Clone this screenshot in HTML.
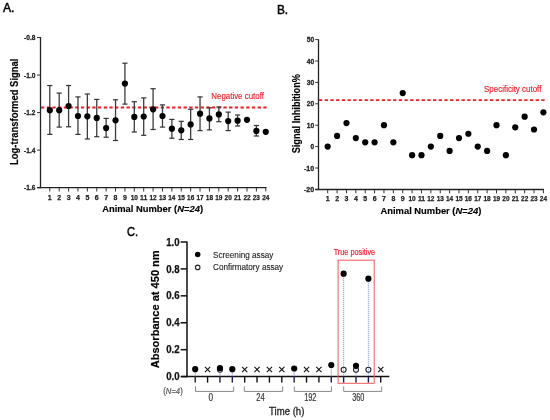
<!DOCTYPE html>
<html><head><meta charset="utf-8"><style>
html,body{margin:0;padding:0;background:#fff;width:550px;height:420px;overflow:hidden}
svg{display:block;font-family:"Liberation Sans",sans-serif;filter:blur(0.3px)}
</style></head><body>
<svg width="550" height="420" viewBox="0 0 550 420" font-family="Liberation Sans"><text x="2.9" y="11.6" font-size="12.0" font-weight="normal" font-style="normal" text-anchor="start" fill="#000" textLength="11.5" lengthAdjust="spacingAndGlyphs" stroke="#000" stroke-width="0.5" >A.</text>
<line x1="40.5" y1="37.0" x2="40.5" y2="188.3" stroke="#222" stroke-width="1.3" />
<line x1="37" y1="187.7" x2="266.5" y2="187.7" stroke="#222" stroke-width="1.3" />
<line x1="37" y1="37.5" x2="40.5" y2="37.5" stroke="#333" stroke-width="1.0" />
<text x="35.4" y="40.1" font-size="7.2" font-weight="bold" font-style="normal" text-anchor="end" fill="#222" textLength="11.3" lengthAdjust="spacingAndGlyphs" stroke="#222" stroke-width="0.3" >-0.8</text>
<line x1="37" y1="75.04999999999998" x2="40.5" y2="75.04999999999998" stroke="#333" stroke-width="1.0" />
<text x="35.4" y="77.64999999999998" font-size="7.2" font-weight="bold" font-style="normal" text-anchor="end" fill="#222" textLength="11.3" lengthAdjust="spacingAndGlyphs" stroke="#222" stroke-width="0.3" >-1.0</text>
<line x1="37" y1="112.59999999999998" x2="40.5" y2="112.59999999999998" stroke="#333" stroke-width="1.0" />
<text x="35.4" y="115.19999999999997" font-size="7.2" font-weight="bold" font-style="normal" text-anchor="end" fill="#222" textLength="11.3" lengthAdjust="spacingAndGlyphs" stroke="#222" stroke-width="0.3" >-1.2</text>
<line x1="37" y1="150.14999999999998" x2="40.5" y2="150.14999999999998" stroke="#333" stroke-width="1.0" />
<text x="35.4" y="152.74999999999997" font-size="7.2" font-weight="bold" font-style="normal" text-anchor="end" fill="#222" textLength="11.3" lengthAdjust="spacingAndGlyphs" stroke="#222" stroke-width="0.3" >-1.4</text>
<line x1="37" y1="187.7" x2="40.5" y2="187.7" stroke="#333" stroke-width="1.0" />
<text x="35.4" y="190.29999999999998" font-size="7.2" font-weight="bold" font-style="normal" text-anchor="end" fill="#222" textLength="11.3" lengthAdjust="spacingAndGlyphs" stroke="#222" stroke-width="0.3" >-1.6</text>
<line x1="49.8" y1="187.7" x2="49.8" y2="191.5" stroke="#333" stroke-width="1.0" />
<text x="49.8" y="199.6" font-size="7.0" font-weight="bold" font-style="normal" text-anchor="middle" fill="#222" textLength="3.9" lengthAdjust="spacingAndGlyphs" stroke="#222" stroke-width="0.25" >1</text>
<line x1="59.19" y1="187.7" x2="59.19" y2="191.5" stroke="#333" stroke-width="1.0" />
<text x="59.19" y="199.6" font-size="7.0" font-weight="bold" font-style="normal" text-anchor="middle" fill="#222" textLength="3.9" lengthAdjust="spacingAndGlyphs" stroke="#222" stroke-width="0.25" >2</text>
<line x1="68.58" y1="187.7" x2="68.58" y2="191.5" stroke="#333" stroke-width="1.0" />
<text x="68.58" y="199.6" font-size="7.0" font-weight="bold" font-style="normal" text-anchor="middle" fill="#222" textLength="3.9" lengthAdjust="spacingAndGlyphs" stroke="#222" stroke-width="0.25" >3</text>
<line x1="77.97" y1="187.7" x2="77.97" y2="191.5" stroke="#333" stroke-width="1.0" />
<text x="77.97" y="199.6" font-size="7.0" font-weight="bold" font-style="normal" text-anchor="middle" fill="#222" textLength="3.9" lengthAdjust="spacingAndGlyphs" stroke="#222" stroke-width="0.25" >4</text>
<line x1="87.36" y1="187.7" x2="87.36" y2="191.5" stroke="#333" stroke-width="1.0" />
<text x="87.36" y="199.6" font-size="7.0" font-weight="bold" font-style="normal" text-anchor="middle" fill="#222" textLength="3.9" lengthAdjust="spacingAndGlyphs" stroke="#222" stroke-width="0.25" >5</text>
<line x1="96.75" y1="187.7" x2="96.75" y2="191.5" stroke="#333" stroke-width="1.0" />
<text x="96.75" y="199.6" font-size="7.0" font-weight="bold" font-style="normal" text-anchor="middle" fill="#222" textLength="3.9" lengthAdjust="spacingAndGlyphs" stroke="#222" stroke-width="0.25" >6</text>
<line x1="106.14" y1="187.7" x2="106.14" y2="191.5" stroke="#333" stroke-width="1.0" />
<text x="106.14" y="199.6" font-size="7.0" font-weight="bold" font-style="normal" text-anchor="middle" fill="#222" textLength="3.9" lengthAdjust="spacingAndGlyphs" stroke="#222" stroke-width="0.25" >7</text>
<line x1="115.53" y1="187.7" x2="115.53" y2="191.5" stroke="#333" stroke-width="1.0" />
<text x="115.53" y="199.6" font-size="7.0" font-weight="bold" font-style="normal" text-anchor="middle" fill="#222" textLength="3.9" lengthAdjust="spacingAndGlyphs" stroke="#222" stroke-width="0.25" >8</text>
<line x1="124.92" y1="187.7" x2="124.92" y2="191.5" stroke="#333" stroke-width="1.0" />
<text x="124.92" y="199.6" font-size="7.0" font-weight="bold" font-style="normal" text-anchor="middle" fill="#222" textLength="3.9" lengthAdjust="spacingAndGlyphs" stroke="#222" stroke-width="0.25" >9</text>
<line x1="134.31" y1="187.7" x2="134.31" y2="191.5" stroke="#333" stroke-width="1.0" />
<text x="134.31" y="199.6" font-size="7.0" font-weight="bold" font-style="normal" text-anchor="middle" fill="#222" textLength="7.2" lengthAdjust="spacingAndGlyphs" stroke="#222" stroke-width="0.25" >10</text>
<line x1="143.7" y1="187.7" x2="143.7" y2="191.5" stroke="#333" stroke-width="1.0" />
<text x="143.7" y="199.6" font-size="7.0" font-weight="bold" font-style="normal" text-anchor="middle" fill="#222" textLength="7.2" lengthAdjust="spacingAndGlyphs" stroke="#222" stroke-width="0.25" >11</text>
<line x1="153.09" y1="187.7" x2="153.09" y2="191.5" stroke="#333" stroke-width="1.0" />
<text x="153.09" y="199.6" font-size="7.0" font-weight="bold" font-style="normal" text-anchor="middle" fill="#222" textLength="7.2" lengthAdjust="spacingAndGlyphs" stroke="#222" stroke-width="0.25" >12</text>
<line x1="162.48000000000002" y1="187.7" x2="162.48000000000002" y2="191.5" stroke="#333" stroke-width="1.0" />
<text x="162.48000000000002" y="199.6" font-size="7.0" font-weight="bold" font-style="normal" text-anchor="middle" fill="#222" textLength="7.2" lengthAdjust="spacingAndGlyphs" stroke="#222" stroke-width="0.25" >13</text>
<line x1="171.87" y1="187.7" x2="171.87" y2="191.5" stroke="#333" stroke-width="1.0" />
<text x="171.87" y="199.6" font-size="7.0" font-weight="bold" font-style="normal" text-anchor="middle" fill="#222" textLength="7.2" lengthAdjust="spacingAndGlyphs" stroke="#222" stroke-width="0.25" >14</text>
<line x1="181.26" y1="187.7" x2="181.26" y2="191.5" stroke="#333" stroke-width="1.0" />
<text x="181.26" y="199.6" font-size="7.0" font-weight="bold" font-style="normal" text-anchor="middle" fill="#222" textLength="7.2" lengthAdjust="spacingAndGlyphs" stroke="#222" stroke-width="0.25" >15</text>
<line x1="190.65000000000003" y1="187.7" x2="190.65000000000003" y2="191.5" stroke="#333" stroke-width="1.0" />
<text x="190.65000000000003" y="199.6" font-size="7.0" font-weight="bold" font-style="normal" text-anchor="middle" fill="#222" textLength="7.2" lengthAdjust="spacingAndGlyphs" stroke="#222" stroke-width="0.25" >16</text>
<line x1="200.04000000000002" y1="187.7" x2="200.04000000000002" y2="191.5" stroke="#333" stroke-width="1.0" />
<text x="200.04000000000002" y="199.6" font-size="7.0" font-weight="bold" font-style="normal" text-anchor="middle" fill="#222" textLength="7.2" lengthAdjust="spacingAndGlyphs" stroke="#222" stroke-width="0.25" >17</text>
<line x1="209.43" y1="187.7" x2="209.43" y2="191.5" stroke="#333" stroke-width="1.0" />
<text x="209.43" y="199.6" font-size="7.0" font-weight="bold" font-style="normal" text-anchor="middle" fill="#222" textLength="7.2" lengthAdjust="spacingAndGlyphs" stroke="#222" stroke-width="0.25" >18</text>
<line x1="218.82" y1="187.7" x2="218.82" y2="191.5" stroke="#333" stroke-width="1.0" />
<text x="218.82" y="199.6" font-size="7.0" font-weight="bold" font-style="normal" text-anchor="middle" fill="#222" textLength="7.2" lengthAdjust="spacingAndGlyphs" stroke="#222" stroke-width="0.25" >19</text>
<line x1="228.21000000000004" y1="187.7" x2="228.21000000000004" y2="191.5" stroke="#333" stroke-width="1.0" />
<text x="228.21000000000004" y="199.6" font-size="7.0" font-weight="bold" font-style="normal" text-anchor="middle" fill="#222" textLength="7.2" lengthAdjust="spacingAndGlyphs" stroke="#222" stroke-width="0.25" >20</text>
<line x1="237.60000000000002" y1="187.7" x2="237.60000000000002" y2="191.5" stroke="#333" stroke-width="1.0" />
<text x="237.60000000000002" y="199.6" font-size="7.0" font-weight="bold" font-style="normal" text-anchor="middle" fill="#222" textLength="7.2" lengthAdjust="spacingAndGlyphs" stroke="#222" stroke-width="0.25" >21</text>
<line x1="246.99" y1="187.7" x2="246.99" y2="191.5" stroke="#333" stroke-width="1.0" />
<text x="246.99" y="199.6" font-size="7.0" font-weight="bold" font-style="normal" text-anchor="middle" fill="#222" textLength="7.2" lengthAdjust="spacingAndGlyphs" stroke="#222" stroke-width="0.25" >22</text>
<line x1="256.38" y1="187.7" x2="256.38" y2="191.5" stroke="#333" stroke-width="1.0" />
<text x="256.38" y="199.6" font-size="7.0" font-weight="bold" font-style="normal" text-anchor="middle" fill="#222" textLength="7.2" lengthAdjust="spacingAndGlyphs" stroke="#222" stroke-width="0.25" >23</text>
<line x1="265.77000000000004" y1="187.7" x2="265.77000000000004" y2="191.5" stroke="#333" stroke-width="1.0" />
<text x="265.77000000000004" y="199.6" font-size="7.0" font-weight="bold" font-style="normal" text-anchor="middle" fill="#222" textLength="7.2" lengthAdjust="spacingAndGlyphs" stroke="#222" stroke-width="0.25" >24</text>
<text x="102.2" y="211.8" font-size="9.8" font-weight="bold" font-style="normal" text-anchor="start" fill="#000" textLength="100.8" lengthAdjust="spacingAndGlyphs" stroke="#000" stroke-width="0.15" >Animal Number (<tspan font-style="italic">N</tspan>=<tspan font-style="italic">24</tspan>)</text>
<text transform="translate(18.3,164.9) rotate(-90)" font-size="10.2" font-weight="bold" stroke="#000" stroke-width="0.15" textLength="106.3" lengthAdjust="spacingAndGlyphs">Log-transformed Signal</text>
<line x1="41" y1="107.5" x2="268" y2="107.5" stroke="#ee1c25" stroke-width="1.8" stroke-dasharray="3.3 2.4"/>
<text x="211.3" y="98.8" font-size="8.9" font-weight="normal" font-style="normal" text-anchor="start" fill="#ee1c25" textLength="52.6" lengthAdjust="spacingAndGlyphs" stroke="#ee1c25" stroke-width="0.15" >Negative cutoff</text>
<line x1="49.8" y1="85.5" x2="49.8" y2="134.4" stroke="#3c3c3c" stroke-width="1.3" />
<line x1="47.199999999999996" y1="85.5" x2="52.4" y2="85.5" stroke="#333" stroke-width="1.2" />
<line x1="47.199999999999996" y1="134.4" x2="52.4" y2="134.4" stroke="#333" stroke-width="1.2" />
<line x1="59.19" y1="93.1" x2="59.19" y2="127.1" stroke="#3c3c3c" stroke-width="1.3" />
<line x1="56.589999999999996" y1="93.1" x2="61.79" y2="93.1" stroke="#333" stroke-width="1.2" />
<line x1="56.589999999999996" y1="127.1" x2="61.79" y2="127.1" stroke="#333" stroke-width="1.2" />
<line x1="68.58" y1="85.5" x2="68.58" y2="126.8" stroke="#3c3c3c" stroke-width="1.3" />
<line x1="65.98" y1="85.5" x2="71.17999999999999" y2="85.5" stroke="#333" stroke-width="1.2" />
<line x1="65.98" y1="126.8" x2="71.17999999999999" y2="126.8" stroke="#333" stroke-width="1.2" />
<line x1="77.97" y1="96.9" x2="77.97" y2="134.4" stroke="#3c3c3c" stroke-width="1.3" />
<line x1="75.37" y1="96.9" x2="80.57" y2="96.9" stroke="#333" stroke-width="1.2" />
<line x1="75.37" y1="134.4" x2="80.57" y2="134.4" stroke="#333" stroke-width="1.2" />
<line x1="87.36" y1="94" x2="87.36" y2="139" stroke="#3c3c3c" stroke-width="1.3" />
<line x1="84.76" y1="94" x2="89.96" y2="94" stroke="#333" stroke-width="1.2" />
<line x1="84.76" y1="139" x2="89.96" y2="139" stroke="#333" stroke-width="1.2" />
<line x1="96.75" y1="99.4" x2="96.75" y2="136.7" stroke="#3c3c3c" stroke-width="1.3" />
<line x1="94.15" y1="99.4" x2="99.35" y2="99.4" stroke="#333" stroke-width="1.2" />
<line x1="94.15" y1="136.7" x2="99.35" y2="136.7" stroke="#333" stroke-width="1.2" />
<line x1="106.14" y1="118.4" x2="106.14" y2="137.2" stroke="#3c3c3c" stroke-width="1.3" />
<line x1="103.54" y1="118.4" x2="108.74" y2="118.4" stroke="#333" stroke-width="1.2" />
<line x1="103.54" y1="137.2" x2="108.74" y2="137.2" stroke="#333" stroke-width="1.2" />
<line x1="115.53" y1="99.8" x2="115.53" y2="140.5" stroke="#3c3c3c" stroke-width="1.3" />
<line x1="112.93" y1="99.8" x2="118.13" y2="99.8" stroke="#333" stroke-width="1.2" />
<line x1="112.93" y1="140.5" x2="118.13" y2="140.5" stroke="#333" stroke-width="1.2" />
<line x1="124.92" y1="63.2" x2="124.92" y2="104.1" stroke="#3c3c3c" stroke-width="1.3" />
<line x1="122.32000000000001" y1="63.2" x2="127.52" y2="63.2" stroke="#333" stroke-width="1.2" />
<line x1="122.32000000000001" y1="104.1" x2="127.52" y2="104.1" stroke="#333" stroke-width="1.2" />
<line x1="134.31" y1="101.7" x2="134.31" y2="132" stroke="#3c3c3c" stroke-width="1.3" />
<line x1="131.71" y1="101.7" x2="136.91" y2="101.7" stroke="#333" stroke-width="1.2" />
<line x1="131.71" y1="132" x2="136.91" y2="132" stroke="#333" stroke-width="1.2" />
<line x1="143.7" y1="97.9" x2="143.7" y2="135.3" stroke="#3c3c3c" stroke-width="1.3" />
<line x1="141.1" y1="97.9" x2="146.29999999999998" y2="97.9" stroke="#333" stroke-width="1.2" />
<line x1="141.1" y1="135.3" x2="146.29999999999998" y2="135.3" stroke="#333" stroke-width="1.2" />
<line x1="153.09" y1="88.7" x2="153.09" y2="129.5" stroke="#3c3c3c" stroke-width="1.3" />
<line x1="150.49" y1="88.7" x2="155.69" y2="88.7" stroke="#333" stroke-width="1.2" />
<line x1="150.49" y1="129.5" x2="155.69" y2="129.5" stroke="#333" stroke-width="1.2" />
<line x1="162.48000000000002" y1="104.9" x2="162.48000000000002" y2="127.1" stroke="#3c3c3c" stroke-width="1.3" />
<line x1="159.88000000000002" y1="104.9" x2="165.08" y2="104.9" stroke="#333" stroke-width="1.2" />
<line x1="159.88000000000002" y1="127.1" x2="165.08" y2="127.1" stroke="#333" stroke-width="1.2" />
<line x1="171.87" y1="119.4" x2="171.87" y2="138.2" stroke="#3c3c3c" stroke-width="1.3" />
<line x1="169.27" y1="119.4" x2="174.47" y2="119.4" stroke="#333" stroke-width="1.2" />
<line x1="169.27" y1="138.2" x2="174.47" y2="138.2" stroke="#333" stroke-width="1.2" />
<line x1="181.26" y1="121.3" x2="181.26" y2="139.5" stroke="#3c3c3c" stroke-width="1.3" />
<line x1="178.66" y1="121.3" x2="183.85999999999999" y2="121.3" stroke="#333" stroke-width="1.2" />
<line x1="178.66" y1="139.5" x2="183.85999999999999" y2="139.5" stroke="#333" stroke-width="1.2" />
<line x1="190.65000000000003" y1="109.3" x2="190.65000000000003" y2="139.5" stroke="#3c3c3c" stroke-width="1.3" />
<line x1="188.05000000000004" y1="109.3" x2="193.25000000000003" y2="109.3" stroke="#333" stroke-width="1.2" />
<line x1="188.05000000000004" y1="139.5" x2="193.25000000000003" y2="139.5" stroke="#333" stroke-width="1.2" />
<line x1="200.04000000000002" y1="96.9" x2="200.04000000000002" y2="130.6" stroke="#3c3c3c" stroke-width="1.3" />
<line x1="197.44000000000003" y1="96.9" x2="202.64000000000001" y2="96.9" stroke="#333" stroke-width="1.2" />
<line x1="197.44000000000003" y1="130.6" x2="202.64000000000001" y2="130.6" stroke="#333" stroke-width="1.2" />
<line x1="209.43" y1="107.8" x2="209.43" y2="129.9" stroke="#3c3c3c" stroke-width="1.3" />
<line x1="206.83" y1="107.8" x2="212.03" y2="107.8" stroke="#333" stroke-width="1.2" />
<line x1="206.83" y1="129.9" x2="212.03" y2="129.9" stroke="#333" stroke-width="1.2" />
<line x1="218.82" y1="107" x2="218.82" y2="121.7" stroke="#3c3c3c" stroke-width="1.3" />
<line x1="216.22" y1="107" x2="221.42" y2="107" stroke="#333" stroke-width="1.2" />
<line x1="216.22" y1="121.7" x2="221.42" y2="121.7" stroke="#333" stroke-width="1.2" />
<line x1="228.21000000000004" y1="112.1" x2="228.21000000000004" y2="130.6" stroke="#3c3c3c" stroke-width="1.3" />
<line x1="225.61000000000004" y1="112.1" x2="230.81000000000003" y2="112.1" stroke="#333" stroke-width="1.2" />
<line x1="225.61000000000004" y1="130.6" x2="230.81000000000003" y2="130.6" stroke="#333" stroke-width="1.2" />
<line x1="237.60000000000002" y1="115" x2="237.60000000000002" y2="126" stroke="#3c3c3c" stroke-width="1.3" />
<line x1="235.00000000000003" y1="115" x2="240.20000000000002" y2="115" stroke="#333" stroke-width="1.2" />
<line x1="235.00000000000003" y1="126" x2="240.20000000000002" y2="126" stroke="#333" stroke-width="1.2" />
<line x1="256.38" y1="125.5" x2="256.38" y2="136" stroke="#3c3c3c" stroke-width="1.3" />
<line x1="253.78" y1="125.5" x2="258.98" y2="125.5" stroke="#333" stroke-width="1.2" />
<line x1="253.78" y1="136" x2="258.98" y2="136" stroke="#333" stroke-width="1.2" />
<circle cx="49.8" cy="110.2" r="3.1" fill="#000" stroke="none" stroke-width="0"/>
<circle cx="59.19" cy="110.2" r="3.1" fill="#000" stroke="none" stroke-width="0"/>
<circle cx="68.58" cy="106" r="3.1" fill="#000" stroke="none" stroke-width="0"/>
<circle cx="77.97" cy="116" r="3.1" fill="#000" stroke="none" stroke-width="0"/>
<circle cx="87.36" cy="116.3" r="3.1" fill="#000" stroke="none" stroke-width="0"/>
<circle cx="96.75" cy="117.9" r="3.1" fill="#000" stroke="none" stroke-width="0"/>
<circle cx="106.14" cy="128.1" r="3.1" fill="#000" stroke="none" stroke-width="0"/>
<circle cx="115.53" cy="120.3" r="3.1" fill="#000" stroke="none" stroke-width="0"/>
<circle cx="124.92" cy="83.6" r="3.1" fill="#000" stroke="none" stroke-width="0"/>
<circle cx="134.31" cy="116.9" r="3.1" fill="#000" stroke="none" stroke-width="0"/>
<circle cx="143.7" cy="116.5" r="3.1" fill="#000" stroke="none" stroke-width="0"/>
<circle cx="153.09" cy="109.3" r="3.1" fill="#000" stroke="none" stroke-width="0"/>
<circle cx="162.48000000000002" cy="116" r="3.1" fill="#000" stroke="none" stroke-width="0"/>
<circle cx="171.87" cy="128.7" r="3.1" fill="#000" stroke="none" stroke-width="0"/>
<circle cx="181.26" cy="130.3" r="3.1" fill="#000" stroke="none" stroke-width="0"/>
<circle cx="190.65000000000003" cy="124.4" r="3.1" fill="#000" stroke="none" stroke-width="0"/>
<circle cx="200.04000000000002" cy="113.7" r="3.1" fill="#000" stroke="none" stroke-width="0"/>
<circle cx="209.43" cy="118.4" r="3.1" fill="#000" stroke="none" stroke-width="0"/>
<circle cx="218.82" cy="114.4" r="3.1" fill="#000" stroke="none" stroke-width="0"/>
<circle cx="228.21000000000004" cy="121.1" r="3.1" fill="#000" stroke="none" stroke-width="0"/>
<circle cx="237.60000000000002" cy="120.7" r="3.1" fill="#000" stroke="none" stroke-width="0"/>
<circle cx="246.99" cy="119.8" r="3.1" fill="#000" stroke="none" stroke-width="0"/>
<circle cx="256.38" cy="130.9" r="3.1" fill="#000" stroke="none" stroke-width="0"/>
<circle cx="265.77000000000004" cy="131.8" r="3.1" fill="#000" stroke="none" stroke-width="0"/>
<text x="276.9" y="13.6" font-size="12.4" font-weight="normal" font-style="normal" text-anchor="start" fill="#000" textLength="11.2" lengthAdjust="spacingAndGlyphs" stroke="#000" stroke-width="0.5" >B.</text>
<line x1="318.5" y1="39.3" x2="318.5" y2="190.1" stroke="#222" stroke-width="1.3" />
<line x1="315" y1="189.5" x2="543.9" y2="189.5" stroke="#222" stroke-width="1.3" />
<line x1="315.2" y1="39.599999999999994" x2="318.5" y2="39.599999999999994" stroke="#333" stroke-width="1.0" />
<text x="314.2" y="42.199999999999996" font-size="7.2" font-weight="bold" font-style="normal" text-anchor="end" fill="#222" textLength="7.4" lengthAdjust="spacingAndGlyphs" stroke="#222" stroke-width="0.3" >50</text>
<line x1="315.2" y1="60.999999999999986" x2="318.5" y2="60.999999999999986" stroke="#333" stroke-width="1.0" />
<text x="314.2" y="63.59999999999999" font-size="7.2" font-weight="bold" font-style="normal" text-anchor="end" fill="#222" textLength="7.4" lengthAdjust="spacingAndGlyphs" stroke="#222" stroke-width="0.3" >40</text>
<line x1="315.2" y1="82.39999999999999" x2="318.5" y2="82.39999999999999" stroke="#333" stroke-width="1.0" />
<text x="314.2" y="84.99999999999999" font-size="7.2" font-weight="bold" font-style="normal" text-anchor="end" fill="#222" textLength="7.4" lengthAdjust="spacingAndGlyphs" stroke="#222" stroke-width="0.3" >30</text>
<line x1="315.2" y1="103.79999999999998" x2="318.5" y2="103.79999999999998" stroke="#333" stroke-width="1.0" />
<text x="314.2" y="106.39999999999998" font-size="7.2" font-weight="bold" font-style="normal" text-anchor="end" fill="#222" textLength="7.4" lengthAdjust="spacingAndGlyphs" stroke="#222" stroke-width="0.3" >20</text>
<line x1="315.2" y1="125.19999999999999" x2="318.5" y2="125.19999999999999" stroke="#333" stroke-width="1.0" />
<text x="314.2" y="127.79999999999998" font-size="7.2" font-weight="bold" font-style="normal" text-anchor="end" fill="#222" textLength="7.4" lengthAdjust="spacingAndGlyphs" stroke="#222" stroke-width="0.3" >10</text>
<line x1="315.2" y1="146.6" x2="318.5" y2="146.6" stroke="#333" stroke-width="1.0" />
<text x="314.2" y="149.2" font-size="7.2" font-weight="bold" font-style="normal" text-anchor="end" fill="#222" textLength="3.6" lengthAdjust="spacingAndGlyphs" stroke="#222" stroke-width="0.3" >0</text>
<line x1="315.2" y1="168.0" x2="318.5" y2="168.0" stroke="#333" stroke-width="1.0" />
<text x="314.2" y="170.6" font-size="7.2" font-weight="bold" font-style="normal" text-anchor="end" fill="#222" textLength="10.2" lengthAdjust="spacingAndGlyphs" stroke="#222" stroke-width="0.3" >-10</text>
<line x1="315.2" y1="189.4" x2="318.5" y2="189.4" stroke="#333" stroke-width="1.0" />
<text x="314.2" y="192.0" font-size="7.2" font-weight="bold" font-style="normal" text-anchor="end" fill="#222" textLength="10.2" lengthAdjust="spacingAndGlyphs" stroke="#222" stroke-width="0.3" >-20</text>
<line x1="327.7" y1="189.5" x2="327.7" y2="193.3" stroke="#333" stroke-width="1.0" />
<text x="327.7" y="201.2" font-size="7.0" font-weight="bold" font-style="normal" text-anchor="middle" fill="#222" textLength="3.9" lengthAdjust="spacingAndGlyphs" stroke="#222" stroke-width="0.25" >1</text>
<line x1="337.078" y1="189.5" x2="337.078" y2="193.3" stroke="#333" stroke-width="1.0" />
<text x="337.078" y="201.2" font-size="7.0" font-weight="bold" font-style="normal" text-anchor="middle" fill="#222" textLength="3.9" lengthAdjust="spacingAndGlyphs" stroke="#222" stroke-width="0.25" >2</text>
<line x1="346.456" y1="189.5" x2="346.456" y2="193.3" stroke="#333" stroke-width="1.0" />
<text x="346.456" y="201.2" font-size="7.0" font-weight="bold" font-style="normal" text-anchor="middle" fill="#222" textLength="3.9" lengthAdjust="spacingAndGlyphs" stroke="#222" stroke-width="0.25" >3</text>
<line x1="355.834" y1="189.5" x2="355.834" y2="193.3" stroke="#333" stroke-width="1.0" />
<text x="355.834" y="201.2" font-size="7.0" font-weight="bold" font-style="normal" text-anchor="middle" fill="#222" textLength="3.9" lengthAdjust="spacingAndGlyphs" stroke="#222" stroke-width="0.25" >4</text>
<line x1="365.212" y1="189.5" x2="365.212" y2="193.3" stroke="#333" stroke-width="1.0" />
<text x="365.212" y="201.2" font-size="7.0" font-weight="bold" font-style="normal" text-anchor="middle" fill="#222" textLength="3.9" lengthAdjust="spacingAndGlyphs" stroke="#222" stroke-width="0.25" >5</text>
<line x1="374.59" y1="189.5" x2="374.59" y2="193.3" stroke="#333" stroke-width="1.0" />
<text x="374.59" y="201.2" font-size="7.0" font-weight="bold" font-style="normal" text-anchor="middle" fill="#222" textLength="3.9" lengthAdjust="spacingAndGlyphs" stroke="#222" stroke-width="0.25" >6</text>
<line x1="383.96799999999996" y1="189.5" x2="383.96799999999996" y2="193.3" stroke="#333" stroke-width="1.0" />
<text x="383.96799999999996" y="201.2" font-size="7.0" font-weight="bold" font-style="normal" text-anchor="middle" fill="#222" textLength="3.9" lengthAdjust="spacingAndGlyphs" stroke="#222" stroke-width="0.25" >7</text>
<line x1="393.346" y1="189.5" x2="393.346" y2="193.3" stroke="#333" stroke-width="1.0" />
<text x="393.346" y="201.2" font-size="7.0" font-weight="bold" font-style="normal" text-anchor="middle" fill="#222" textLength="3.9" lengthAdjust="spacingAndGlyphs" stroke="#222" stroke-width="0.25" >8</text>
<line x1="402.724" y1="189.5" x2="402.724" y2="193.3" stroke="#333" stroke-width="1.0" />
<text x="402.724" y="201.2" font-size="7.0" font-weight="bold" font-style="normal" text-anchor="middle" fill="#222" textLength="3.9" lengthAdjust="spacingAndGlyphs" stroke="#222" stroke-width="0.25" >9</text>
<line x1="412.102" y1="189.5" x2="412.102" y2="193.3" stroke="#333" stroke-width="1.0" />
<text x="412.102" y="201.2" font-size="7.0" font-weight="bold" font-style="normal" text-anchor="middle" fill="#222" textLength="7.2" lengthAdjust="spacingAndGlyphs" stroke="#222" stroke-width="0.25" >10</text>
<line x1="421.48" y1="189.5" x2="421.48" y2="193.3" stroke="#333" stroke-width="1.0" />
<text x="421.48" y="201.2" font-size="7.0" font-weight="bold" font-style="normal" text-anchor="middle" fill="#222" textLength="7.2" lengthAdjust="spacingAndGlyphs" stroke="#222" stroke-width="0.25" >11</text>
<line x1="430.858" y1="189.5" x2="430.858" y2="193.3" stroke="#333" stroke-width="1.0" />
<text x="430.858" y="201.2" font-size="7.0" font-weight="bold" font-style="normal" text-anchor="middle" fill="#222" textLength="7.2" lengthAdjust="spacingAndGlyphs" stroke="#222" stroke-width="0.25" >12</text>
<line x1="440.236" y1="189.5" x2="440.236" y2="193.3" stroke="#333" stroke-width="1.0" />
<text x="440.236" y="201.2" font-size="7.0" font-weight="bold" font-style="normal" text-anchor="middle" fill="#222" textLength="7.2" lengthAdjust="spacingAndGlyphs" stroke="#222" stroke-width="0.25" >13</text>
<line x1="449.614" y1="189.5" x2="449.614" y2="193.3" stroke="#333" stroke-width="1.0" />
<text x="449.614" y="201.2" font-size="7.0" font-weight="bold" font-style="normal" text-anchor="middle" fill="#222" textLength="7.2" lengthAdjust="spacingAndGlyphs" stroke="#222" stroke-width="0.25" >14</text>
<line x1="458.99199999999996" y1="189.5" x2="458.99199999999996" y2="193.3" stroke="#333" stroke-width="1.0" />
<text x="458.99199999999996" y="201.2" font-size="7.0" font-weight="bold" font-style="normal" text-anchor="middle" fill="#222" textLength="7.2" lengthAdjust="spacingAndGlyphs" stroke="#222" stroke-width="0.25" >15</text>
<line x1="468.37" y1="189.5" x2="468.37" y2="193.3" stroke="#333" stroke-width="1.0" />
<text x="468.37" y="201.2" font-size="7.0" font-weight="bold" font-style="normal" text-anchor="middle" fill="#222" textLength="7.2" lengthAdjust="spacingAndGlyphs" stroke="#222" stroke-width="0.25" >16</text>
<line x1="477.748" y1="189.5" x2="477.748" y2="193.3" stroke="#333" stroke-width="1.0" />
<text x="477.748" y="201.2" font-size="7.0" font-weight="bold" font-style="normal" text-anchor="middle" fill="#222" textLength="7.2" lengthAdjust="spacingAndGlyphs" stroke="#222" stroke-width="0.25" >17</text>
<line x1="487.126" y1="189.5" x2="487.126" y2="193.3" stroke="#333" stroke-width="1.0" />
<text x="487.126" y="201.2" font-size="7.0" font-weight="bold" font-style="normal" text-anchor="middle" fill="#222" textLength="7.2" lengthAdjust="spacingAndGlyphs" stroke="#222" stroke-width="0.25" >18</text>
<line x1="496.504" y1="189.5" x2="496.504" y2="193.3" stroke="#333" stroke-width="1.0" />
<text x="496.504" y="201.2" font-size="7.0" font-weight="bold" font-style="normal" text-anchor="middle" fill="#222" textLength="7.2" lengthAdjust="spacingAndGlyphs" stroke="#222" stroke-width="0.25" >19</text>
<line x1="505.882" y1="189.5" x2="505.882" y2="193.3" stroke="#333" stroke-width="1.0" />
<text x="505.882" y="201.2" font-size="7.0" font-weight="bold" font-style="normal" text-anchor="middle" fill="#222" textLength="7.2" lengthAdjust="spacingAndGlyphs" stroke="#222" stroke-width="0.25" >20</text>
<line x1="515.26" y1="189.5" x2="515.26" y2="193.3" stroke="#333" stroke-width="1.0" />
<text x="515.26" y="201.2" font-size="7.0" font-weight="bold" font-style="normal" text-anchor="middle" fill="#222" textLength="7.2" lengthAdjust="spacingAndGlyphs" stroke="#222" stroke-width="0.25" >21</text>
<line x1="524.6379999999999" y1="189.5" x2="524.6379999999999" y2="193.3" stroke="#333" stroke-width="1.0" />
<text x="524.6379999999999" y="201.2" font-size="7.0" font-weight="bold" font-style="normal" text-anchor="middle" fill="#222" textLength="7.2" lengthAdjust="spacingAndGlyphs" stroke="#222" stroke-width="0.25" >22</text>
<line x1="534.016" y1="189.5" x2="534.016" y2="193.3" stroke="#333" stroke-width="1.0" />
<text x="534.016" y="201.2" font-size="7.0" font-weight="bold" font-style="normal" text-anchor="middle" fill="#222" textLength="7.2" lengthAdjust="spacingAndGlyphs" stroke="#222" stroke-width="0.25" >23</text>
<line x1="543.394" y1="189.5" x2="543.394" y2="193.3" stroke="#333" stroke-width="1.0" />
<text x="543.394" y="201.2" font-size="7.0" font-weight="bold" font-style="normal" text-anchor="middle" fill="#222" textLength="7.2" lengthAdjust="spacingAndGlyphs" stroke="#222" stroke-width="0.25" >24</text>
<text x="380.5" y="214.1" font-size="9.8" font-weight="bold" font-style="normal" text-anchor="start" fill="#000" textLength="100.8" lengthAdjust="spacingAndGlyphs" stroke="#000" stroke-width="0.15" >Animal Number (<tspan font-style="italic">N</tspan>=<tspan font-style="italic">24</tspan>)</text>
<text transform="translate(299.9,153.3) rotate(-90)" font-size="10.2" font-weight="bold" stroke="#000" stroke-width="0.15" textLength="79.2" lengthAdjust="spacingAndGlyphs">Signal Inhibition%</text>
<line x1="319" y1="100.2" x2="546" y2="100.2" stroke="#ee1c25" stroke-width="1.8" stroke-dasharray="3.3 2.4"/>
<text x="484" y="92.1" font-size="8.7" font-weight="normal" font-style="normal" text-anchor="start" fill="#ee1c25" textLength="57.4" lengthAdjust="spacingAndGlyphs" stroke="#ee1c25" stroke-width="0.15" >Specificity cutoff</text>
<circle cx="327.7" cy="146.6" r="3.1" fill="#000" stroke="none" stroke-width="0"/>
<circle cx="337.078" cy="135.9" r="3.1" fill="#000" stroke="none" stroke-width="0"/>
<circle cx="346.456" cy="123.05999999999999" r="3.1" fill="#000" stroke="none" stroke-width="0"/>
<circle cx="355.834" cy="138.04" r="3.1" fill="#000" stroke="none" stroke-width="0"/>
<circle cx="365.212" cy="142.32" r="3.1" fill="#000" stroke="none" stroke-width="0"/>
<circle cx="374.59" cy="142.32" r="3.1" fill="#000" stroke="none" stroke-width="0"/>
<circle cx="383.96799999999996" cy="125.19999999999999" r="3.1" fill="#000" stroke="none" stroke-width="0"/>
<circle cx="393.346" cy="142.32" r="3.1" fill="#000" stroke="none" stroke-width="0"/>
<circle cx="402.724" cy="93.1" r="3.1" fill="#000" stroke="none" stroke-width="0"/>
<circle cx="412.102" cy="155.16" r="3.1" fill="#000" stroke="none" stroke-width="0"/>
<circle cx="421.48" cy="155.16" r="3.1" fill="#000" stroke="none" stroke-width="0"/>
<circle cx="430.858" cy="146.6" r="3.1" fill="#000" stroke="none" stroke-width="0"/>
<circle cx="440.236" cy="135.9" r="3.1" fill="#000" stroke="none" stroke-width="0"/>
<circle cx="449.614" cy="150.88" r="3.1" fill="#000" stroke="none" stroke-width="0"/>
<circle cx="458.99199999999996" cy="138.04" r="3.1" fill="#000" stroke="none" stroke-width="0"/>
<circle cx="468.37" cy="133.76" r="3.1" fill="#000" stroke="none" stroke-width="0"/>
<circle cx="477.748" cy="146.6" r="3.1" fill="#000" stroke="none" stroke-width="0"/>
<circle cx="487.126" cy="150.88" r="3.1" fill="#000" stroke="none" stroke-width="0"/>
<circle cx="496.504" cy="125.19999999999999" r="3.1" fill="#000" stroke="none" stroke-width="0"/>
<circle cx="505.882" cy="155.16" r="3.1" fill="#000" stroke="none" stroke-width="0"/>
<circle cx="515.26" cy="127.33999999999999" r="3.1" fill="#000" stroke="none" stroke-width="0"/>
<circle cx="524.6379999999999" cy="116.63999999999999" r="3.1" fill="#000" stroke="none" stroke-width="0"/>
<circle cx="534.016" cy="129.48" r="3.1" fill="#000" stroke="none" stroke-width="0"/>
<circle cx="543.394" cy="112.35999999999999" r="3.1" fill="#000" stroke="none" stroke-width="0"/>
<text x="127.0" y="236.3" font-size="12.2" font-weight="normal" font-style="normal" text-anchor="start" fill="#000" textLength="11.1" lengthAdjust="spacingAndGlyphs" stroke="#000" stroke-width="0.45" >C.</text>
<line x1="187.0" y1="241.4" x2="187.0" y2="377.2" stroke="#111" stroke-width="1.5" />
<line x1="181.3" y1="376.6" x2="389.3" y2="376.6" stroke="#111" stroke-width="1.5" />
<line x1="180.6" y1="376.6" x2="187.0" y2="376.6" stroke="#111" stroke-width="1.5" />
<text x="179.6" y="380.20000000000005" font-size="10.2" font-weight="bold" font-style="normal" text-anchor="end" fill="#111" textLength="13.4" lengthAdjust="spacingAndGlyphs" stroke="#111" stroke-width="0.25" >0.0</text>
<line x1="180.6" y1="349.68" x2="187.0" y2="349.68" stroke="#111" stroke-width="1.5" />
<text x="179.6" y="353.28000000000003" font-size="10.2" font-weight="bold" font-style="normal" text-anchor="end" fill="#111" textLength="13.4" lengthAdjust="spacingAndGlyphs" stroke="#111" stroke-width="0.25" >0.2</text>
<line x1="180.6" y1="322.76" x2="187.0" y2="322.76" stroke="#111" stroke-width="1.5" />
<text x="179.6" y="326.36" font-size="10.2" font-weight="bold" font-style="normal" text-anchor="end" fill="#111" textLength="13.4" lengthAdjust="spacingAndGlyphs" stroke="#111" stroke-width="0.25" >0.4</text>
<line x1="180.6" y1="295.84000000000003" x2="187.0" y2="295.84000000000003" stroke="#111" stroke-width="1.5" />
<text x="179.6" y="299.44000000000005" font-size="10.2" font-weight="bold" font-style="normal" text-anchor="end" fill="#111" textLength="13.4" lengthAdjust="spacingAndGlyphs" stroke="#111" stroke-width="0.25" >0.6</text>
<line x1="180.6" y1="268.92" x2="187.0" y2="268.92" stroke="#111" stroke-width="1.5" />
<text x="179.6" y="272.52000000000004" font-size="10.2" font-weight="bold" font-style="normal" text-anchor="end" fill="#111" textLength="13.4" lengthAdjust="spacingAndGlyphs" stroke="#111" stroke-width="0.25" >0.8</text>
<line x1="180.6" y1="242.00000000000003" x2="187.0" y2="242.00000000000003" stroke="#111" stroke-width="1.5" />
<text x="179.6" y="245.60000000000002" font-size="10.2" font-weight="bold" font-style="normal" text-anchor="end" fill="#111" textLength="13.4" lengthAdjust="spacingAndGlyphs" stroke="#111" stroke-width="0.25" >1.0</text>
<circle cx="197.7" cy="254.6" r="2.75" fill="#000" stroke="none" stroke-width="0"/>
<circle cx="197.7" cy="267.4" r="2.25" fill="#fff" stroke="#222" stroke-width="1.1"/>
<text x="213.0" y="257.7" font-size="8.4" font-weight="normal" font-style="normal" text-anchor="start" fill="#222" textLength="60.4" lengthAdjust="spacingAndGlyphs" stroke="#222" stroke-width="0.12" >Screening assay</text>
<text x="213.0" y="270.1" font-size="8.4" font-weight="normal" font-style="normal" text-anchor="start" fill="#222" textLength="70.2" lengthAdjust="spacingAndGlyphs" stroke="#222" stroke-width="0.12" >Confirmatory assay</text>
<text transform="translate(159.3,368.3) rotate(-90)" font-size="11.2" font-weight="bold" stroke="#000" stroke-width="0.2" textLength="118" lengthAdjust="spacingAndGlyphs">Absorbance at 450 nm</text>
<rect x="338.1" y="260.2" width="36.1" height="123.1" fill="none" stroke="#f0585a" stroke-width="1"/>
<text x="333.7" y="254.9" font-size="9.9" font-weight="normal" font-style="normal" text-anchor="start" fill="#ee1c25" textLength="41.4" lengthAdjust="spacingAndGlyphs" stroke="#ee1c25" stroke-width="0.2" >True positive</text>
<line x1="343.64" y1="273.7656" x2="343.64" y2="376.6" stroke="#6a6ad8" stroke-width="0.8" stroke-dasharray="1 1"/>
<line x1="368.38" y1="278.74580000000003" x2="368.38" y2="376.6" stroke="#6a6ad8" stroke-width="0.8" stroke-dasharray="1 1"/>
<line x1="195.2" y1="371.2" x2="195.2" y2="376.6" stroke="#9a9ae0" stroke-width="0.7" />
<line x1="219.94" y1="370.0" x2="219.94" y2="376.6" stroke="#9a9ae0" stroke-width="0.7" />
<line x1="232.31" y1="371.2" x2="232.31" y2="376.6" stroke="#9a9ae0" stroke-width="0.7" />
<line x1="294.15999999999997" y1="370.5" x2="294.15999999999997" y2="376.6" stroke="#9a9ae0" stroke-width="0.7" />
<line x1="331.27" y1="367.0" x2="331.27" y2="376.6" stroke="#9a9ae0" stroke-width="0.7" />
<line x1="356.01" y1="367.8" x2="356.01" y2="376.6" stroke="#9a9ae0" stroke-width="0.7" />
<line x1="195.2" y1="376.6" x2="195.2" y2="382.6" stroke="#1a1a55" stroke-width="1.4" />
<line x1="207.57" y1="376.6" x2="207.57" y2="382.6" stroke="#111" stroke-width="1.4" />
<line x1="219.94" y1="376.6" x2="219.94" y2="382.6" stroke="#1a1a55" stroke-width="1.4" />
<line x1="232.31" y1="376.6" x2="232.31" y2="382.6" stroke="#1a1a55" stroke-width="1.4" />
<line x1="244.67999999999998" y1="376.6" x2="244.67999999999998" y2="382.6" stroke="#111" stroke-width="1.4" />
<line x1="257.04999999999995" y1="376.6" x2="257.04999999999995" y2="382.6" stroke="#111" stroke-width="1.4" />
<line x1="269.41999999999996" y1="376.6" x2="269.41999999999996" y2="382.6" stroke="#111" stroke-width="1.4" />
<line x1="281.78999999999996" y1="376.6" x2="281.78999999999996" y2="382.6" stroke="#111" stroke-width="1.4" />
<line x1="294.15999999999997" y1="376.6" x2="294.15999999999997" y2="382.6" stroke="#1a1a55" stroke-width="1.4" />
<line x1="306.53" y1="376.6" x2="306.53" y2="382.6" stroke="#111" stroke-width="1.4" />
<line x1="318.9" y1="376.6" x2="318.9" y2="382.6" stroke="#111" stroke-width="1.4" />
<line x1="331.27" y1="376.6" x2="331.27" y2="382.6" stroke="#1a1a55" stroke-width="1.4" />
<line x1="343.64" y1="376.6" x2="343.64" y2="382.6" stroke="#1a1a55" stroke-width="1.4" />
<line x1="356.01" y1="376.6" x2="356.01" y2="382.6" stroke="#1a1a55" stroke-width="1.4" />
<line x1="368.38" y1="376.6" x2="368.38" y2="382.6" stroke="#1a1a55" stroke-width="1.4" />
<line x1="380.75" y1="376.6" x2="380.75" y2="382.6" stroke="#111" stroke-width="1.4" />
<line x1="204.97" y1="366.9" x2="210.17" y2="372.1" stroke="#111" stroke-width="1.1" />
<line x1="204.97" y1="372.1" x2="210.17" y2="366.9" stroke="#111" stroke-width="1.1" />
<line x1="242.07999999999998" y1="366.9" x2="247.27999999999997" y2="372.1" stroke="#111" stroke-width="1.1" />
<line x1="242.07999999999998" y1="372.1" x2="247.27999999999997" y2="366.9" stroke="#111" stroke-width="1.1" />
<line x1="254.44999999999996" y1="366.9" x2="259.65" y2="372.1" stroke="#111" stroke-width="1.1" />
<line x1="254.44999999999996" y1="372.1" x2="259.65" y2="366.9" stroke="#111" stroke-width="1.1" />
<line x1="266.81999999999994" y1="366.9" x2="272.02" y2="372.1" stroke="#111" stroke-width="1.1" />
<line x1="266.81999999999994" y1="372.1" x2="272.02" y2="366.9" stroke="#111" stroke-width="1.1" />
<line x1="279.18999999999994" y1="366.9" x2="284.39" y2="372.1" stroke="#111" stroke-width="1.1" />
<line x1="279.18999999999994" y1="372.1" x2="284.39" y2="366.9" stroke="#111" stroke-width="1.1" />
<line x1="303.92999999999995" y1="366.9" x2="309.13" y2="372.1" stroke="#111" stroke-width="1.1" />
<line x1="303.92999999999995" y1="372.1" x2="309.13" y2="366.9" stroke="#111" stroke-width="1.1" />
<line x1="316.29999999999995" y1="366.9" x2="321.5" y2="372.1" stroke="#111" stroke-width="1.1" />
<line x1="316.29999999999995" y1="372.1" x2="321.5" y2="366.9" stroke="#111" stroke-width="1.1" />
<line x1="378.15" y1="366.9" x2="383.35" y2="372.1" stroke="#111" stroke-width="1.1" />
<line x1="378.15" y1="372.1" x2="383.35" y2="366.9" stroke="#111" stroke-width="1.1" />
<circle cx="343.64" cy="369.7" r="2.5" fill="none" stroke="#222" stroke-width="1.1"/>
<circle cx="356.01" cy="369.7" r="2.5" fill="none" stroke="#222" stroke-width="1.1"/>
<circle cx="368.38" cy="369.7" r="2.5" fill="none" stroke="#222" stroke-width="1.1"/>
<circle cx="219.94" cy="369.7" r="2.5" fill="none" stroke="#222" stroke-width="1.1"/>
<circle cx="195.2" cy="369.2" r="3.1" fill="#000" stroke="none" stroke-width="0"/>
<circle cx="219.94" cy="368.0" r="3.1" fill="#000" stroke="none" stroke-width="0"/>
<circle cx="232.31" cy="369.2" r="3.1" fill="#000" stroke="none" stroke-width="0"/>
<circle cx="294.15999999999997" cy="368.5" r="3.1" fill="#000" stroke="none" stroke-width="0"/>
<circle cx="331.27" cy="365.0" r="3.1" fill="#000" stroke="none" stroke-width="0"/>
<circle cx="343.64" cy="273.7" r="3.1" fill="#000" stroke="none" stroke-width="0"/>
<circle cx="356.01" cy="365.8" r="3.1" fill="#000" stroke="none" stroke-width="0"/>
<circle cx="368.38" cy="278.7" r="3.1" fill="#000" stroke="none" stroke-width="0"/>
<polyline points="195.5,386.4 195.5,391.4 233.7,391.4 233.7,386.4" fill="none" stroke="#888" stroke-width="1"/>
<text x="210.9" y="401.2" font-size="10.5" font-weight="normal" font-style="normal" text-anchor="middle" fill="#333" textLength="4.6" lengthAdjust="spacingAndGlyphs" stroke="#333" stroke-width="0.2" >0</text>
<polyline points="244.3,386.4 244.3,391.4 282.6,391.4 282.6,386.4" fill="none" stroke="#888" stroke-width="1"/>
<text x="260.5" y="401.2" font-size="10.5" font-weight="normal" font-style="normal" text-anchor="middle" fill="#333" textLength="8.4" lengthAdjust="spacingAndGlyphs" stroke="#333" stroke-width="0.2" >24</text>
<polyline points="294.3,386.4 294.3,391.4 331.4,391.4 331.4,386.4" fill="none" stroke="#888" stroke-width="1"/>
<text x="310.3" y="401.2" font-size="10.5" font-weight="normal" font-style="normal" text-anchor="middle" fill="#333" textLength="12.2" lengthAdjust="spacingAndGlyphs" stroke="#333" stroke-width="0.2" >192</text>
<polyline points="343.7,386.4 343.7,391.4 381.7,391.4 381.7,386.4" fill="none" stroke="#888" stroke-width="1"/>
<text x="358.3" y="401.2" font-size="10.5" font-weight="normal" font-style="normal" text-anchor="middle" fill="#333" textLength="12.2" lengthAdjust="spacingAndGlyphs" stroke="#333" stroke-width="0.2" >360</text>
<text x="163.3" y="393.8" font-size="9.2" font-weight="normal" font-style="normal" text-anchor="start" fill="#505050" textLength="19.4" lengthAdjust="spacingAndGlyphs" stroke="#505050" stroke-width="0.22" >(<tspan font-style="italic">N</tspan>=<tspan font-style="italic">4</tspan>)</text>
<text x="269.0" y="414.7" font-size="11.4" font-weight="normal" font-style="normal" text-anchor="start" fill="#222" textLength="35.4" lengthAdjust="spacingAndGlyphs" stroke="#222" stroke-width="0.3" >Time (h)</text></svg>
</body></html>
